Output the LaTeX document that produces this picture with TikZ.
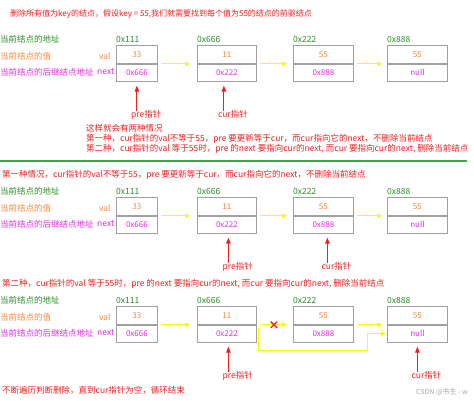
\documentclass[tikz,border=0pt]{standalone}
\usepackage{fontspec}
\setmainfont{Noto Sans CJK SC}
\usetikzlibrary{arrows.meta,shapes.misc}
\definecolor{tred}{RGB}{240,30,30}
\definecolor{cgreen}{RGB}{40,140,40}
\definecolor{corange}{RGB}{250,135,60}
\definecolor{cmag}{RGB}{230,40,230}
\definecolor{cyel}{RGB}{250,250,0}
\definecolor{cbox}{RGB}{160,160,160}
\definecolor{csep}{RGB}{50,170,70}
\tikzset{
  lbl/.style={anchor=west,inner sep=0pt,font=\fontsize{8.5}{10}\selectfont},
  txt/.style={anchor=west,inner sep=0pt,text=tred,font=\fontsize{8.5}{10}\selectfont},
  topcell/.style={draw=cbox,line width=0.8pt,minimum height=18pt,inner sep=0pt,text=corange,font=\fontsize{8}{9}\selectfont},
  botcell/.style={draw=cbox,line width=0.8pt,minimum height=17pt,inner sep=0pt,text=cmag,font=\fontsize{8}{9}\selectfont},
  addr/.style={inner sep=0pt,text=cgreen,font=\fontsize{8.5}{10}\selectfont},
  yarr/.style={draw=cyel,line width=0.9pt,-{Triangle[length=5pt,width=4.5pt]}},
  rarr/.style={draw=tred,line width=0.9pt,-{Triangle[length=6pt,width=4.5pt]}},
  ptrlbl/.style={inner sep=0pt,text=tred,font=\fontsize{8.5}{10}\selectfont},
  xmark/.style={cross out,draw=tred,line width=1.3pt,minimum size=5pt,inner sep=0pt}
}
% #1 prefix, #2 index, #3 x, #4 width, #5 top y, #6 val, #7 next, #8 address
\newcommand\llnode[8]{%
  \node[topcell,minimum width=#4,anchor=north west] (#1a#2) at (#3,#5) {#6};
  \node[botcell,minimum width=#4,anchor=north] (#1b#2) at (#1a#2.south) {#7};
  \node[addr,anchor=south west] (#1d#2) at ([yshift=2.5pt]#1a#2.north west) {#8};
}
% #1 prefix, #2 top y
\newcommand\llrow[2]{%
  \node[lbl,text=cgreen] (#1L1) at (0,#2-6) {当前结点的地址};
  \node[lbl,text=corange] (#1L2) at (0,#2+11) {当前结点的值};
  \node[lbl,text=cmag] (#1L3) at (0,#2+27) {当前结点的后继结点地址};
  \node[lbl,text=corange] (#1V) at (99,#2+11) {val};
  \node[lbl,text=cmag] (#1N) at (97,#2+27) {next};
  \llnode{#1}{1}{116}{41}{#2}{33}{0x666}{0x111}
  \llnode{#1}{2}{197}{59}{#2}{11}{0x222}{0x666}
  \llnode{#1}{3}{293}{60}{#2}{55}{0x888}{0x222}
  \llnode{#1}{4}{387}{60}{#2}{55}{null}{0x888}
}
% #1 prefix, #2 node index, #3 name, #4 text, #5 xshift of arrow
\newcommand\pointer[5]{%
  \node[ptrlbl,anchor=north west] (#1#3) at ([xshift=#5-6pt,yshift=-29pt]#1b#2.south) {#4};
  \draw[rarr] ([xshift=6pt]#1#3.north west) -- ([xshift=#5,yshift=-4pt]#1b#2.south);
}
\begin{document}
\begin{tikzpicture}[x=1pt,y=-1pt]
\useasboundingbox (0,0) rectangle (474,400);

% ---------- section 1 ----------
\node[txt,font=\fontsize{8}{10}\selectfont] (title) at (10,14) {删除所有值为key的结点，假设key = 55,我们就需要找到每个值为55的结点的前驱结点};
\llrow{s}{45}
\draw[yarr] ([xshift=4pt]sa1.south east) -- ([xshift=-7pt]sa2.south west);
\draw[yarr] ([xshift=3pt]sa2.south east) -- ([xshift=-6pt]sa3.south west);
\draw[yarr] ([xshift=3pt]sa3.south east) -- ([xshift=-5pt]sa4.south west);
\pointer{s}{1}{pre}{pre指针}{0pt}
\pointer{s}{2}{cur}{cur指针}{-3pt}
\node[txt,anchor=north west,align=left,font=\fontsize{8.5}{10.2}\selectfont] (note) at (86,124)
  {这样就会有两种情况\\
   第一种，cur指针的val不等于55，pre 要更新等于cur，而cur指向它的next，不删除当前结点\\
   第二种，cur指针的val 等于55时，pre 的next 要指向cur的next, 而cur 要指向cur的next, 删除当前结点};

\draw[csep,line width=2pt] (0,161) -- (467,161);

% ---------- section 2 ----------
\node[txt] (t2) at (2,175) {第一种情况，cur指针的val不等于55，pre 要更新等于cur，而cur指向它的next，不删除当前结点};
\llrow{m}{197}
\draw[yarr] ([xshift=4pt]ma1.south east) -- ([xshift=-7pt]ma2.south west);
\draw[yarr] ([xshift=3pt]ma2.south east) -- ([xshift=-6pt]ma3.south west);
\draw[yarr] ([xshift=3pt]ma3.south east) -- ([xshift=-5pt]ma4.south west);
\pointer{m}{2}{pre}{pre指针}{1.5pt}
\pointer{m}{3}{cur}{cur指针}{4pt}

% ---------- section 3 ----------
\node[txt] (t3) at (2,284) {第二种，cur指针的val 等于55时，pre 的next 要指向cur的next, 而cur 要指向cur的next, 删除当前结点};
\llrow{n}{306}
\draw[yarr] ([xshift=4pt]na1.south east) -- ([xshift=-7pt]na2.south west);
\draw[yarr] ([xshift=3pt]na2.south east) -- node[pos=0.52,xmark]{} ([xshift=-6pt]na3.south west);
\draw[yarr] ([xshift=3pt]na3.south east) -- ([xshift=-5pt]na4.south west);
\coordinate (bend) at (367,350);
\draw[yarr] ([xshift=2pt,yshift=-3pt]nb2.north east) |- (bend) |- ([xshift=-1pt]nb4.west);
\pointer{n}{2}{pre}{pre指针}{1.5pt}
\pointer{n}{4}{cur}{cur指针}{0pt}

\node[txt] (end) at (2,390) {不断遍历判断删除，直到cur指针为空，循环结束};
\node[anchor=east,inner sep=0pt,text=black!35,font=\fontsize{7}{8}\selectfont] (wm) at (468,392) {CSDN @书生 - w};
\end{tikzpicture}
\end{document}
